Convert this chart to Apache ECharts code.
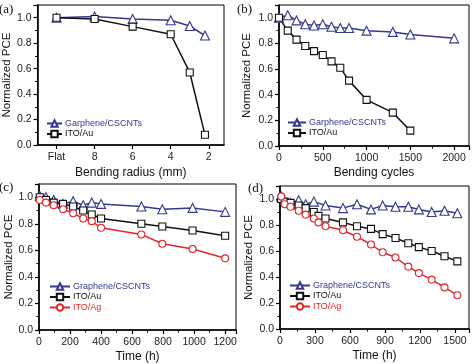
<!DOCTYPE html>
<html><head><meta charset="utf-8">
<script src="https://cdn.jsdelivr.net/npm/echarts@6/dist/echarts.min.js"></script>
<style>html,body{margin:0;padding:0;background:#fff}#c{width:474px;height:364px}</style>
</head><body><div id="c"></div>
<script>
// Panel (a): bending radius
const aX = [10, 8, 6, 4, 3, 2.2];
const aTicks = [10, 8, 6, 4, 2];
const aTickLabels = ['Flat', '8', '6', '4', '2'];
const aGraphene = [1.0, 1.01, 0.99, 0.98, 0.935, 0.86];
const aAu = [1.0, 0.99, 0.93, 0.87, 0.57, 0.08];
// Panel (b): bending cycles
const bGrapheneX = [0, 100, 200, 300, 400, 500, 600, 700, 800, 1000, 1300, 1500, 2000];
const bGraphene = [1.0, 1.02, 0.98, 0.95, 0.94, 0.95, 0.93, 0.92, 0.92, 0.90, 0.89, 0.87, 0.84];
const bAuX = [0, 100, 200, 300, 400, 500, 600, 700, 800, 1000, 1300, 1500];
const bAu = [1.0, 0.90, 0.83, 0.78, 0.74, 0.71, 0.66, 0.61, 0.51, 0.36, 0.26, 0.12];
// Panel (c): time
const cX = [5, 45, 95, 155, 220, 285, 340, 400, 660, 795, 990, 1200];
const cGraphene = [1.01, 1.0, 0.98, 0.95, 0.97, 0.94, 0.96, 0.95, 0.93, 0.91, 0.92, 0.89];
const cAu = [1.0, 0.98, 0.96, 0.95, 0.93, 0.90, 0.87, 0.84, 0.80, 0.78, 0.75, 0.71];
const cAg = [0.98, 0.96, 0.94, 0.91, 0.88, 0.84, 0.82, 0.77, 0.72, 0.65, 0.61, 0.54];
// Panel (d): time
const dGrapheneX = [10, 90, 160, 220, 290, 390, 540, 660, 780, 880, 990, 1100, 1190, 1300, 1410, 1520];
const dGraphene = [1.02, 0.97, 0.99, 0.96, 0.98, 0.95, 0.93, 0.96, 0.92, 0.95, 0.94, 0.94, 0.92, 0.90, 0.91, 0.89];
const dX = [10, 40, 90, 160, 220, 290, 330, 390, 540, 660, 780, 880, 990, 1100, 1190, 1300, 1410, 1520];
const dAu = [1.0, 0.98, 0.97, 0.95, 0.93, 0.90, 0.87, 0.85, 0.82, 0.79, 0.77, 0.73, 0.70, 0.66, 0.63, 0.60, 0.56, 0.52];
const dAg = [1.02, 0.96, 0.94, 0.91, 0.88, 0.85, 0.82, 0.79, 0.76, 0.71, 0.65, 0.59, 0.55, 0.48, 0.43, 0.38, 0.32, 0.26];

const yTicks = ['0.0', '0.2', '0.4', '0.6', '0.8', '1.0'];
const xTitles = ['Bending radius (mm)', 'Bending cycles', 'Time (h)', 'Time (h)'];
const panelLabels = ['(a)', '(b)', '(c)', '(d)'];
const nameGrA = 'Garphene/CSCNTs';
const nameGr = 'Graphene/CSCNTs';
const nameAu = 'ITO/Au';
const nameAg = 'ITO/Ag';

const BLUE = '#34398f', BLACK = '#111111', RED = '#e3262a';
const FONT = 'Liberation Sans, Arial, sans-serif';
const zip = (xs, ys) => xs.map((x, i) => [x, ys[i]]);

const grids = [
  {left: 36, top: 5, width: 188, height: 140},
  {left: 279, top: 5, width: 190, height: 141},
  {left: 39, top: 184, width: 197, height: 147},
  {left: 280, top: 186, width: 189, height: 143}
].map(g => Object.assign({show: true, borderColor: '#000', borderWidth: 1, backgroundColor: 'transparent'}, g));

const axisCommon = {
  axisLine: {show: true, onZero: false, lineStyle: {color: '#000', width: 1.6}},
  axisTick: {show: true, inside: false, length: 4, lineStyle: {color: '#000', width: 1.2}},
  minorTick: {show: true, splitNumber: 2, length: 2.5, lineStyle: {color: '#000', width: 1}},
  splitLine: {show: false},
  axisLabel: {color: '#222', fontSize: 10.5, fontFamily: FONT, margin: 6},
  nameTextStyle: {color: '#111', fontSize: 12, fontFamily: FONT}
};

const yAxes = grids.map((g, i) => Object.assign({}, axisCommon, {
  type: 'value', gridIndex: i, min: 0, max: 1.1, interval: 0.2,
  axisLabel: Object.assign({}, axisCommon.axisLabel, {showMaxLabel: false, formatter: v => yTicks[Math.round(v / 0.2)] || ''}),
  name: 'Normalized PCE', nameLocation: 'middle', nameGap: [22, 26, 24, 25][i],
  nameTextStyle: Object.assign({}, axisCommon.nameTextStyle, {fontSize: 11.5})
}));

const plain = v => String(v);

const xAxes = [
  Object.assign({}, axisCommon, {
    type: 'value', gridIndex: 0, inverse: true, min: 1.2, max: 11,
    axisLabel: Object.assign({}, axisCommon.axisLabel, {margin: 7, customValues: aTicks,
      formatter: v => aTickLabels[aTicks.indexOf(v)] || ''}),
    axisTick: Object.assign({}, axisCommon.axisTick, {customValues: aTicks}),
    minorTick: {show: false},
    name: xTitles[0], nameLocation: 'middle', nameGap: 22
  }),
  Object.assign({}, axisCommon, {
    type: 'value', gridIndex: 1, min: 0, max: 2170, interval: 500,
    axisLabel: Object.assign({}, axisCommon.axisLabel, {margin: 7, showMaxLabel: false, formatter: plain}),
    name: xTitles[1], nameLocation: 'middle', nameGap: 21
  }),
  Object.assign({}, axisCommon, {
    type: 'value', gridIndex: 2, min: 0, max: 1270, interval: 200,
    axisLabel: Object.assign({}, axisCommon.axisLabel, {margin: 7, showMaxLabel: false, formatter: plain}),
    name: xTitles[2], nameLocation: 'middle', nameGap: 21
  }),
  Object.assign({}, axisCommon, {
    type: 'value', gridIndex: 3, min: 0, max: 1620, interval: 300,
    axisLabel: Object.assign({}, axisCommon.axisLabel, {margin: 7, showMaxLabel: false, formatter: plain}),
    name: xTitles[3], nameLocation: 'middle', nameGap: 21
  })
];

function mk(name, idx, data, color, symbol, size) {
  return {
    type: 'line', name, xAxisIndex: idx, yAxisIndex: idx, data,
    symbol, symbolSize: size, showSymbol: true,
    lineStyle: {color, width: 1.5},
    itemStyle: {color: '#fff', borderColor: color, borderWidth: 1.1},
    emphasis: {disabled: true}, z: 3
  };
}

const series = [
  mk(nameGrA, 0, zip(aX, aGraphene), BLUE, 'triangle', 9),
  mk(nameAu, 0, zip(aX, aAu), BLACK, 'rect', 7),
  mk(nameGrA, 1, zip(bGrapheneX, bGraphene), BLUE, 'triangle', 9),
  mk(nameAu, 1, zip(bAuX, bAu), BLACK, 'rect', 7),
  mk(nameGr, 2, zip(cX, cGraphene), BLUE, 'triangle', 9),
  mk(nameAu, 2, zip(cX, cAu), BLACK, 'rect', 7),
  mk(nameAg, 2, zip(cX, cAg), RED, 'circle', 7),
  mk(nameGr, 3, zip(dGrapheneX, dGraphene), BLUE, 'triangle', 9),
  mk(nameAu, 3, zip(dX, dAu), BLACK, 'rect', 7),
  mk(nameAg, 3, zip(dX, dAg), RED, 'circle', 7)
];

function legend(left, top, iw, items) {
  return {
    left, top, orient: 'vertical', itemWidth: iw, itemHeight: 8, itemGap: 1.5,
    selectedMode: false, padding: 0,
    textStyle: {fontSize: 9, fontFamily: FONT, padding: [0, 0, 0, -2]},
    data: items.map(([n, c]) => ({name: n, textStyle: {color: c}}))
  };
}

const option = {
  animation: false,
  backgroundColor: '#fff',
  grid: grids,
  xAxis: xAxes,
  yAxis: yAxes,
  series,
  legend: [
    legend(46, 119, 15, [[nameGrA, BLUE], [nameAu, BLACK]]),
    legend(287, 118, 18, [[nameGrA, BLUE], [nameAu, BLACK]]),
    legend(49, 282, 20, [[nameGr, BLUE], [nameAu, BLACK], [nameAg, RED]]),
    legend(289, 281, 20, [[nameGr, BLUE], [nameAu, BLACK], [nameAg, RED]])
  ],
  title: [
    {text: panelLabels[0], left: -1, top: 3},
    {text: panelLabels[1], left: 237, top: 3},
    {text: panelLabels[2], left: -1, top: 181},
    {text: panelLabels[3], left: 248, top: 182}
  ].map(t => Object.assign(t, {padding: 0, textStyle: {fontSize: 13, fontWeight: 'normal', color: '#111', fontFamily: 'Liberation Serif, serif'}}))
};

const chart = echarts.init(document.getElementById('c'), null, {renderer: 'canvas'});
chart.setOption(option);
</script>
</body></html>
